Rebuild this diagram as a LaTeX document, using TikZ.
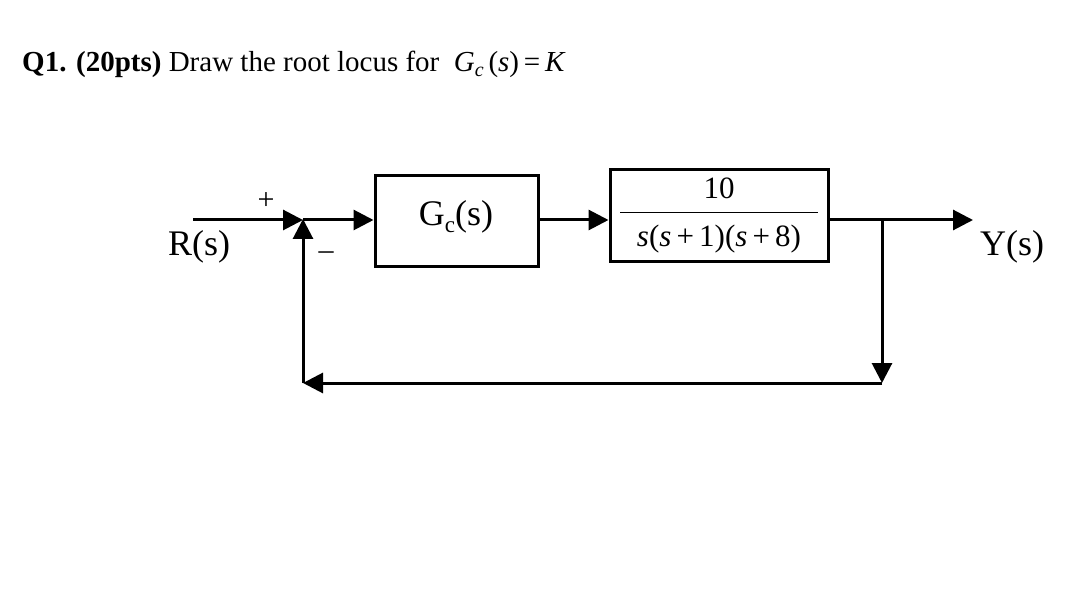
\documentclass[tikz,border=0pt]{standalone}
\usepackage{fontspec}
\setmainfont{Liberation Serif}
\usetikzlibrary{arrows.meta}
\begin{document}
\begin{tikzpicture}[x=1pt,y=-1pt,
  ln/.style={line width=3pt},
  arr/.style={ln,-{Triangle[length=20pt,width=20pt]}},
  blk/.style={draw,line width=3pt,inner sep=0pt},
  lbl/.style={font=\fontsize{36}{38}\selectfont,inner sep=0pt}]
\useasboundingbox (0,0) rectangle (1070,593);
\node[anchor=base west,inner sep=0pt,font=\fontsize{29}{32}\selectfont] (title) at (22,72)
  {\textbf{Q1. (20pts)} Draw the root locus for \ \textit{G}\raisebox{-5pt}{\fontsize{20}{20}\selectfont\textit{c}}\,(\textit{s})\,=\,\textit{K}};
\coordinate (rin) at (193,220);
\coordinate (sum) at (303,220);
\node[blk,minimum width=163pt,minimum height=91pt] (gc) at (456.5,221.5) {};
\node[lbl] (gct) at (456,217) {G\raisebox{-7pt}{\fontsize{23}{23}\selectfont c}(s)};
\node[blk,minimum width=218pt,minimum height=92pt] (gp) at (719,216) {};
\node[lbl,font=\fontsize{31}{33}\selectfont] (num) at (719,188) {10};
\node[lbl,font=\fontsize{31}{33}\selectfont] (den) at (719,239) {\textit{s}(\textit{s}\,+\,1)(\textit{s}\,+\,8)};
\draw[line width=1pt] (620,213) -- (818,213);
\coordinate (br) at (882,220);
\coordinate (yout) at (973,220);
\coordinate (bot) at (882,383);
\coordinate (fb) at (303,383);
\node[lbl,anchor=base] (rs) at (199,256) {R(s)};
\node[lbl,anchor=base west] (ys) at (980,256) {Y(s)};
\node[lbl,font=\fontsize{30}{30}\selectfont] (plus) at (266,201) {+};
\node[lbl,font=\fontsize{30}{30}\selectfont] (minus) at (326,256) {--};
\draw[arr] (rin) -- (sum);
\draw[arr] (sum) -- (gc.west |- sum);
\draw[arr] (gc.east |- sum) -- (gp.west |- sum);
\draw[arr] (gp.east |- sum) -- (yout);
\draw[arr] (br) -- (bot);
\draw[arr] (bot) -- (fb);
\draw[arr] (fb) -- ([yshift=1pt]sum);
\end{tikzpicture}
\end{document}
